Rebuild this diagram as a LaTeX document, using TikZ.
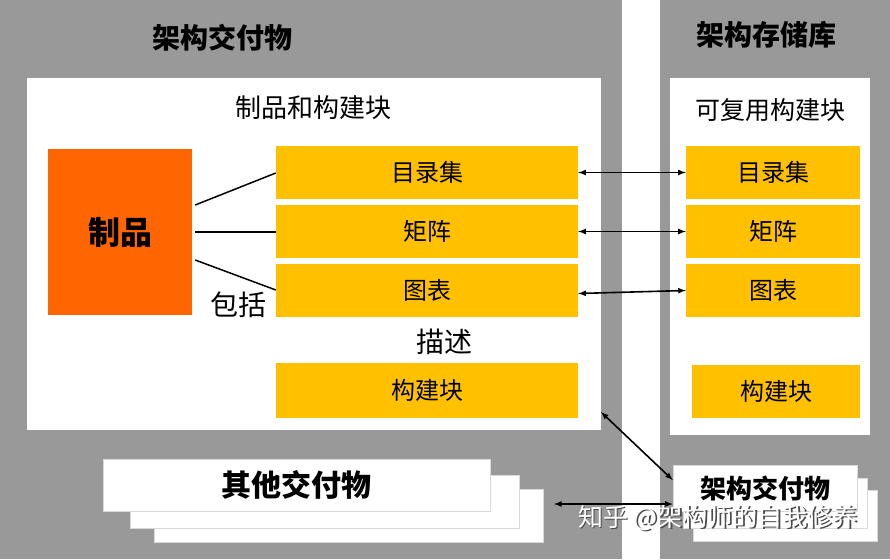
\documentclass[tikz,border=0pt]{standalone}
\usepackage{fontspec}
\newfontfamily\cjk{Noto Sans CJK SC}
\begin{document}
\begin{tikzpicture}[x=1pt,y=-1pt,
  wbox/.style={fill=white,draw=black!15,line width=0.6pt},
  ybox/.style={fill=yelc,draw=none,minimum width=#1,minimum height=53pt,inner sep=0pt,font=\cjk\fontsize{24}{26}\selectfont},
  lbl/.style={font=\cjk\fontsize{#1}{#1}\selectfont,inner sep=0pt},
  arr/.style={<->,>=latex,line width=1.6pt},
  conn/.style={line width=1.5pt}]
\definecolor{yelc}{HTML}{FFC000}
\definecolor{orc}{HTML}{FF6600}
\definecolor{bgc}{HTML}{999999}
\useasboundingbox (0,0) rectangle (890,559);
\fill[bgc] (0,0) rectangle (890,559);
\fill[white] (622,0) rectangle (660,559);
\node[lbl=28,font=\cjk\bfseries\fontsize{28}{28}\selectfont] (t1) at (222,38) {架构交付物};
\node[lbl=28,font=\cjk\bfseries\fontsize{28}{28}\selectfont] (t2) at (766,35) {架构存储库};
\fill[white] (27,78) rectangle (601,430);
\fill[white] (670,78) rectangle (870,435);
\node[lbl=26] (h1) at (313,108) {制品和构建块};
\node[lbl=25] (h2) at (770,110) {可复用构建块};
\node[fill=orc,minimum width=144pt,minimum height=166pt,inner sep=0pt,font=\cjk\bfseries\fontsize{32}{32}\selectfont] (art) at (120,232) {制品};
\node[ybox=302pt] (a1) at (427,172.5) {目录集};
\node[ybox=302pt] (a2) at (427,231.5) {矩阵};
\node[ybox=302pt] (a3) at (427,290.5) {图表};
\node[ybox=302pt,minimum height=55pt] (a4) at (427,390.5) {构建块};
\node[ybox=174pt] (b1) at (773,172.5) {目录集};
\node[ybox=174pt] (b2) at (773,231.5) {矩阵};
\node[ybox=174pt] (b3) at (773,290.5) {图表};
\node[ybox=168pt] (b4) at (776,391.5) {构建块};
\draw[conn] ([xshift=3pt]art.east|-0,205) -- (a1.west|-0,173);
\draw[conn] ([xshift=3pt]art.east|-0,232) -- (a2.west|-0,232);
\draw[conn] ([xshift=3pt]art.east|-0,260) -- (a3.west|-0,290);
\node[lbl=28] (inc) at (238,305) {包括};
\node[lbl=28] (desc) at (444,342) {描述};
\draw[arr] (a1.east) -- (b1.west);
\draw[arr] (a2.east) -- (b2.west);
\draw[arr] ([yshift=-3pt]a3.east) -- (b3.west);
\fill[wbox] (154,489) rectangle (543,542);
\fill[wbox] (130,475) rectangle (519,528);
\node[wbox,minimum width=387pt,minimum height=52pt,font=\cjk\bfseries\fontsize{30}{30}\selectfont] (oth) at (296.5,485) {其他交付物};
\fill[wbox] (693,490) rectangle (877,541);
\fill[wbox] (683,478) rectangle (867,528);
\node[wbox,minimum width=184pt,minimum height=46pt,font=\cjk\bfseries\fontsize{26}{26}\selectfont] (ad) at (765,488) {架构交付物};
\coordinate (pc) at (601,412);
\coordinate (ol) at (554,504);
\draw[arr] (pc) -- (ad.south west|-0,480);
\draw[arr] (ol) -- (ad.west|-0,504);
\node[lbl=25,text=black!70] (wms) at (719.5,519.5) {知乎 @架构师的自我修养};
\node[lbl=25,text=white] (wm) at (718,518) {知乎 @架构师的自我修养};
\end{tikzpicture}
\end{document}
